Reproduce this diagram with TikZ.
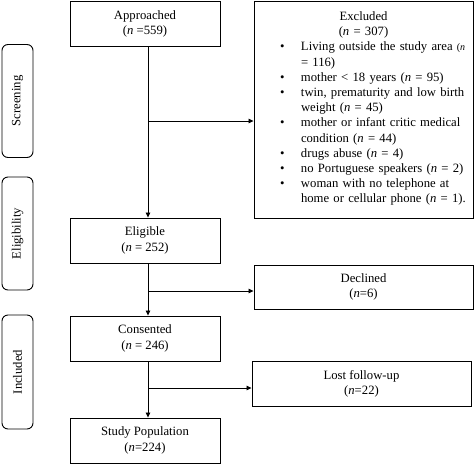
\documentclass[tikz,border=0pt]{standalone}
\usepackage{fontspec}
\setmainfont{Liberation Serif}
\usetikzlibrary{arrows.meta,positioning}

\tikzset{
  flowbox/.style={draw, line width=0.9pt, minimum width=150pt, minimum height=45pt,
    align=center, inner sep=0pt},
  sidebox/.style={draw, line width=0.9pt, minimum width=219pt, minimum height=44pt,
    align=center, inner sep=0pt},
  stagebox/.style={draw, line width=0.9pt, rounded corners=6pt, rotate=90,
    minimum height=31pt, inner sep=0pt},
  flowline/.style={line width=0.8pt},
  flowarrow/.style={line width=0.8pt, -{Triangle[length=5pt,width=4.5pt]}}
}
\newcommand{\nn}{\textit{n}}

\begin{document}
\begin{tikzpicture}[x=1pt, y=-1pt, font=\fontsize{12.7}{15.2}\selectfont]
  \useasboundingbox (0,0) rectangle (474,464);
  % stages on the left
  \node [stagebox, minimum width=113pt] (screening) at (17.5,101) {Screening};
  \node [stagebox, minimum width=113pt] (eligibility) at (17.5,233.5) {Eligibility};
  \node [stagebox, minimum width=114pt] (included) at (17.5,372) {Included};
  % main column
  \node [flowbox] (approached) at (145,24) {Approached\\(\nn{} =559)};
  \node [flowbox] (eligible) at (145,240.5) {Eligible\\(\nn{} = 252)};
  \node [flowbox] (consented) at (145,338.5) {Consented\\(\nn{} = 246)};
  \node [flowbox] (population) at (145,440.5) {Study Population\\(\nn{}=224)};
  % side boxes
  \node [draw, line width=0.9pt, inner sep=0pt, text width=219pt, minimum height=217pt]
    (excluded) at (363.5,109.5) {%
    {\centering Excluded\\(\nn{} = 307)\par}
    \hspace*{26pt}\begin{tabular}[t]{@{}p{21pt}@{}l@{}}
      \textbullet & Living outside the study area {\fontsize{10}{12}\selectfont(\nn}\\
                  & = 116)\\
      \textbullet & mother < 18 years (\nn{} = 95)\\
      \textbullet & twin, prematurity and low birth\\
                  & weight (\nn{} = 45)\\
      \textbullet & mother or infant critic medical\\
                  & condition (\nn{} = 44)\\
      \textbullet & drugs abuse (\nn{} = 4)\\
      \textbullet & no Portuguese speakers (\nn{} = 2)\\
      \textbullet & woman with no telephone at\\
                  & home or cellular phone (\nn{} = 1).
    \end{tabular}};
  \node [sidebox] (declined) at (363.5,287) {Declined\\(\nn{}=6)};
  \node [sidebox, minimum height=45pt] (lost) at (361.5,383.5) {Lost follow-up\\(\nn{}=22)};
  % connectors
  \coordinate (split1) at (148,121);
  \coordinate (split2) at (148,291);
  \coordinate (split3) at (148,388);
  \draw [flowarrow] ([xshift=3pt]approached.south) -- ([xshift=3pt]eligible.north);
  \draw [flowarrow] ([xshift=3pt]eligible.south) -- ([xshift=3pt]consented.north);
  \draw [flowarrow] ([xshift=3pt]consented.south) -- ([xshift=3pt]population.north);
  \draw [flowarrow] (split1) -- (split1 -| excluded.west);
  \draw [flowarrow] (split2) -- (split2 -| declined.west);
  \draw [flowarrow] (split3) -- (split3 -| lost.west);
\end{tikzpicture}
\end{document}
